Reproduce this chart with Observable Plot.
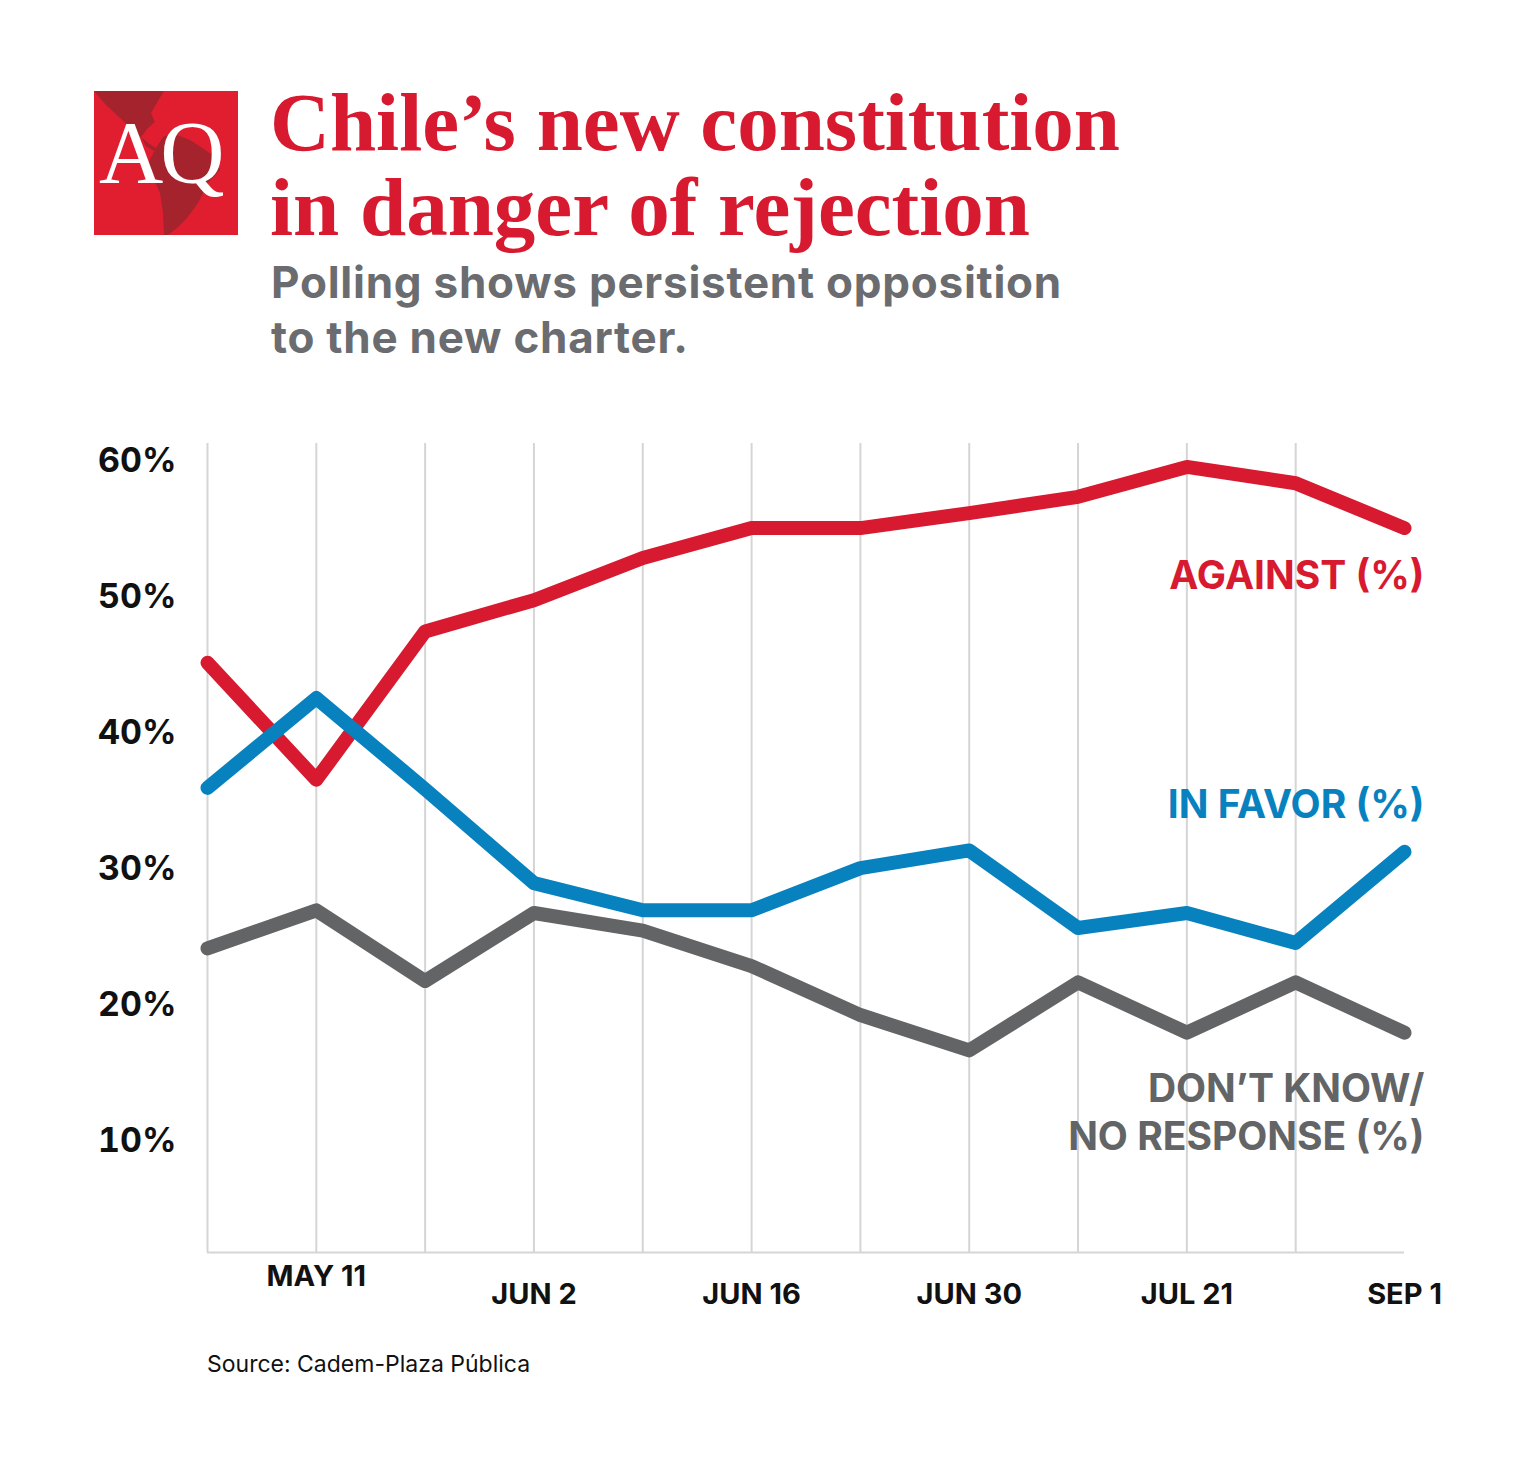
<!DOCTYPE html>
<html>
<head>
<meta charset="utf-8">
<script src="https://cdn.jsdelivr.net/npm/d3@7"></script>
<script src="https://cdn.jsdelivr.net/npm/@observablehq/plot@0.6"></script>
<style>
  html, body { margin: 0; padding: 0; background: #fff; }
  body { position: relative; width: 1536px; height: 1471px; overflow: hidden; }
  #logo { position: absolute; left: 94px; top: 91px; width: 144px; height: 144px; }
  #title { position: absolute; left: 270px; top: 79.5px; font-family: "Liberation Serif", serif; font-weight: 700;
           font-size: 83px; line-height: 85px; color: #d71a2f; letter-spacing: 0px; white-space: nowrap; }
  #subtitle { position: absolute; left: 271px; top: 254.5px; font-family: "Inter", sans-serif; font-weight: 700;
           font-size: 44px; line-height: 55px; color: #6b6c6f; letter-spacing: 0.75px; white-space: nowrap; }
  #chart { position: absolute; left: 0; top: 420px; }
  #source { position: absolute; left: 207px; top: 1353px; font-family: "Inter", sans-serif; font-weight: 400;
           font-size: 23px; line-height: 22px; color: #111; white-space: nowrap; }
</style>
</head>
<body>
<div id="logo">
  <svg width="144" height="144" viewBox="0 0 144 144">
    <rect x="0" y="0" width="144" height="144" fill="#e11e2f"/>
    <path fill="#a5232d" d="M0,0 H70 L64,10 L57,22 L61,31 L54,37 L47,46 L38,38 L25,26 L12,14 Z"/>
    <path fill="#a5232d" d="M47,46 L54,52 L62,57 L60,60 L52,55 Z"/>
    <path fill="#a5232d" d="M69,46 L78,42 L96,49 L110,58 L121,66 L126,79 L114,92 L104,112 L93,127 L83,137 L74,144 L70,144 L69,122 L66,102 L59,86 L54,72 L62,57 Z"/>
    <text x="5" y="91" font-family="Liberation Serif, serif" font-size="89" fill="#fff" letter-spacing="-3">AQ</text>
  </svg>
</div>
<div id="title">Chile’s new constitution<br>in danger of rejection</div>
<div id="subtitle">Polling shows persistent opposition<br>to the new charter.</div>
<div id="chart"></div>
<div id="source">Source: Cadem-Plaza Pública</div>
<script>
// ---- data ----
const polls = [0, 1, 2, 3, 4, 5, 6, 7, 8, 9, 10, 11];
const against  = [45.2, 36.6, 47.5, 49.8, 52.9, 55.1, 55.1, 56.2, 57.4, 59.6, 58.4, 55.1];
const inFavor  = [36.0, 42.6, 35.9, 29.0, 27.0, 27.0, 30.1, 31.4, 25.7, 26.8, 24.6, 31.3];
const dontKnow = [24.2, 27.0, 21.8, 26.8, 25.5, 22.9, 19.3, 16.7, 21.7, 18.0, 21.7, 18.0];

const seriesNames  = ["Against", "In favor", "Don't know"];
const seriesColors = ["#d71a2f", "#0882bf", "#636466"];

const yTicks = [10, 20, 30, 40, 50, 60];
const yDomain = [1.84, 61.32];

const xTickPolls  = [1, 3, 5, 7, 9, 11];
const xTickLabels = ["MAY 11", "JUN 2", "JUN 16", "JUN 30", "JUL 21", "SEP 1"];
const xTickRow    = [0, 1, 1, 1, 1, 1];

const labelLines  = ["AGAINST (%)", "IN FAVOR (%)", "DON’T KNOW/", "NO RESPONSE (%)"];
const labelSeries = ["Against", "In favor", "Don't know", "Don't know"];
const labelY      = [50.6, 33.8, 12.9, 9.4];

// ---- tables ----
const toRows = (vals, name) => polls.map((p, i) => ({poll: p, value: vals[i], series: name}));
const rowsAgainst = toRows(against, seriesNames[0]);
const rowsFavor   = toRows(inFavor, seriesNames[1]);
const rowsDK      = toRows(dontKnow, seriesNames[2]);

const xTicks = xTickPolls.map((p, i) => ({poll: p, label: xTickLabels[i], row: xTickRow[i]}));
const seriesLabels = labelLines.map((t, i) => ({text: t, series: labelSeries[i], y: labelY[i]}));
const lastPoll = polls[polls.length - 1];

const lineOpts = {x: "poll", y: "value", stroke: "series", strokeWidth: 14, strokeLinecap: "round", strokeLinejoin: "round"};

const chart = Plot.plot({
  width: 1536,
  height: 900,
  marginLeft: 207,
  marginRight: 132,
  marginTop: 23,
  marginBottom: 68,
  x: {domain: [polls[0], lastPoll], axis: null},
  y: {domain: yDomain},
  color: {domain: seriesNames, range: seriesColors},
  style: {fontFamily: "Inter, sans-serif", background: "transparent", overflow: "visible", color: "#111"},
  marks: [
    Plot.ruleX(polls.slice(0, -1), {stroke: "#d5d5d5", strokeWidth: 2}),
    Plot.ruleY([yDomain[0]], {stroke: "#d5d5d5", strokeWidth: 2}),
    Plot.axisY(yTicks, {tickSize: 0, tickPadding: 31, tickFormat: d => d + "%", fontSize: 34, fontWeight: 700, label: null, fill: "#111"}),
    Plot.line(rowsAgainst, lineOpts),
    Plot.line(rowsDK, lineOpts),
    Plot.line(rowsFavor, lineOpts),
    Plot.text(xTicks.filter(d => d.row === 0), {x: "poll", text: "label", frameAnchor: "bottom", dy: 33, lineAnchor: "bottom", fontSize: 29, fontWeight: 700, fill: "#111"}),
    Plot.text(xTicks.filter(d => d.row === 1), {x: "poll", text: "label", frameAnchor: "bottom", dy: 51, lineAnchor: "bottom", fontSize: 29, fontWeight: 700, fill: "#111"}),
    Plot.text(seriesLabels, {x: () => lastPoll, y: "y", text: "text", fill: "series", textAnchor: "end", dx: 20, lineAnchor: "bottom", fontSize: 39, fontWeight: 700, letterSpacing: "-0.3px"})
  ]
});
document.getElementById("chart").appendChild(chart);
</script>
</body>
</html>
